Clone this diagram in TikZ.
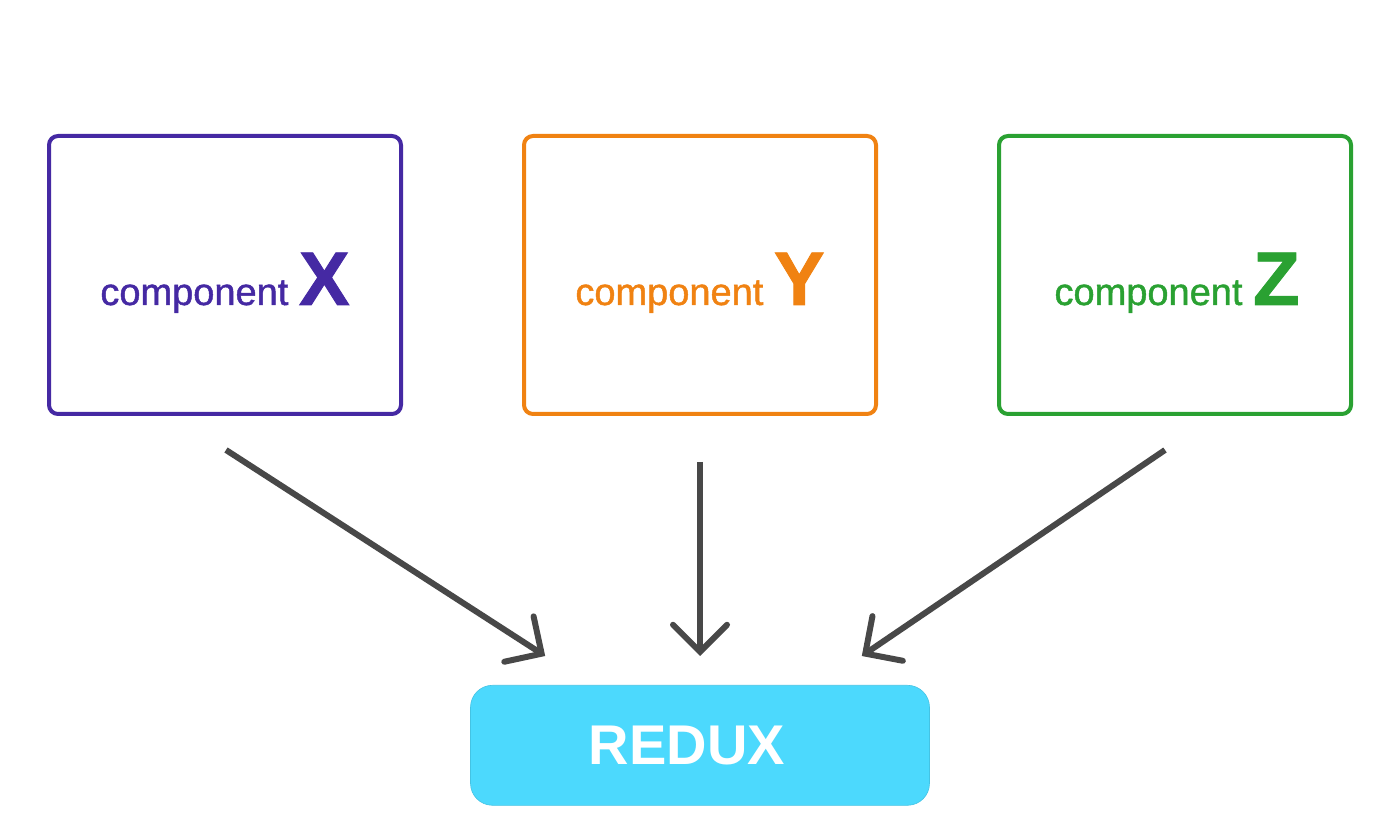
\documentclass[tikz,border=0pt]{standalone}
\usepackage{fontspec}
\setmainfont{Liberation Sans}
\usetikzlibrary{arrows.meta, positioning}
\definecolor{compx}{RGB}{69,41,163}
\definecolor{compy}{RGB}{240,130,18}
\definecolor{compz}{RGB}{42,161,50}
\definecolor{reduxcyan}{RGB}{76,217,253}
\definecolor{arrowgray}{RGB}{72,72,72}
\newcommand{\completter}[1]{{\fontsize{76}{80}\selectfont\bfseries #1}}

\begin{document}
\begin{tikzpicture}[
                x=1pt, y=1pt,
                compbox/.style={shape=rectangle, rounded corners=9pt, line width=4pt, minimum width=352pt, minimum height=278pt},
                complabel/.style={anchor=base, inner sep=0pt, font=\fontsize{38}{40}\selectfont\addfontfeature{FakeBold=1.2}},
                storebox/.style={shape=rectangle, rounded corners=22pt, fill=reduxcyan, draw=reduxcyan!90!black, line width=0.6pt, minimum width=459pt, minimum height=120pt},
                storelabel/.style={inner sep=0pt, text=white, font=\fontsize{56}{60}\selectfont\bfseries},
                flowarrow/.style={draw=arrowgray, line width=6pt, -{Straight Barb[length=27pt, width=54pt, line cap=round]}}
            ]
                \useasboundingbox (0, 0) rectangle (1400, 838);

                % Components
                \node[compbox, draw=compx] (xbox) at (225, 563) {};
                \node[compbox, draw=compy, right=119pt of xbox] (ybox) {};
                \node[compbox, draw=compz, right=119pt of ybox] (zbox) {};

                \node[complabel, text=compx] (xlabel) at ([yshift=-30pt]xbox.center) {component \completter{X}};
                \node[complabel, text=compy] (ylabel) at ([yshift=-30pt]ybox.center) {component \completter{Y}};
                \node[complabel, text=compz] (zlabel) at ([xshift=2pt, yshift=-30pt]zbox.center) {component \completter{Z}};

                % Store
                \node[storebox, below=269pt of ybox] (redux) {};
                \node[storelabel] (reduxlabel) at ([xshift=-13pt]redux.center) {REDUX};

                % Arrows
                \coordinate (xstart) at ([xshift=1pt, yshift=-34pt]xbox.south);
                \coordinate (ystart) at ([yshift=-46pt]ybox.south);
                \coordinate (zstart) at ([xshift=-10pt, yshift=-34pt]zbox.south);
                \coordinate (xend) at ([xshift=75pt, yshift=29pt]redux.north west);
                \coordinate (yend) at ([yshift=29pt]redux.north);
                \coordinate (zend) at ([xshift=-68pt, yshift=29pt]redux.north east);

                \draw[flowarrow] (xstart) -- (xend);
                \draw[flowarrow] (ystart) -- (yend);
                \draw[flowarrow] (zstart) -- (zend);
            \end{tikzpicture}
\end{document}
